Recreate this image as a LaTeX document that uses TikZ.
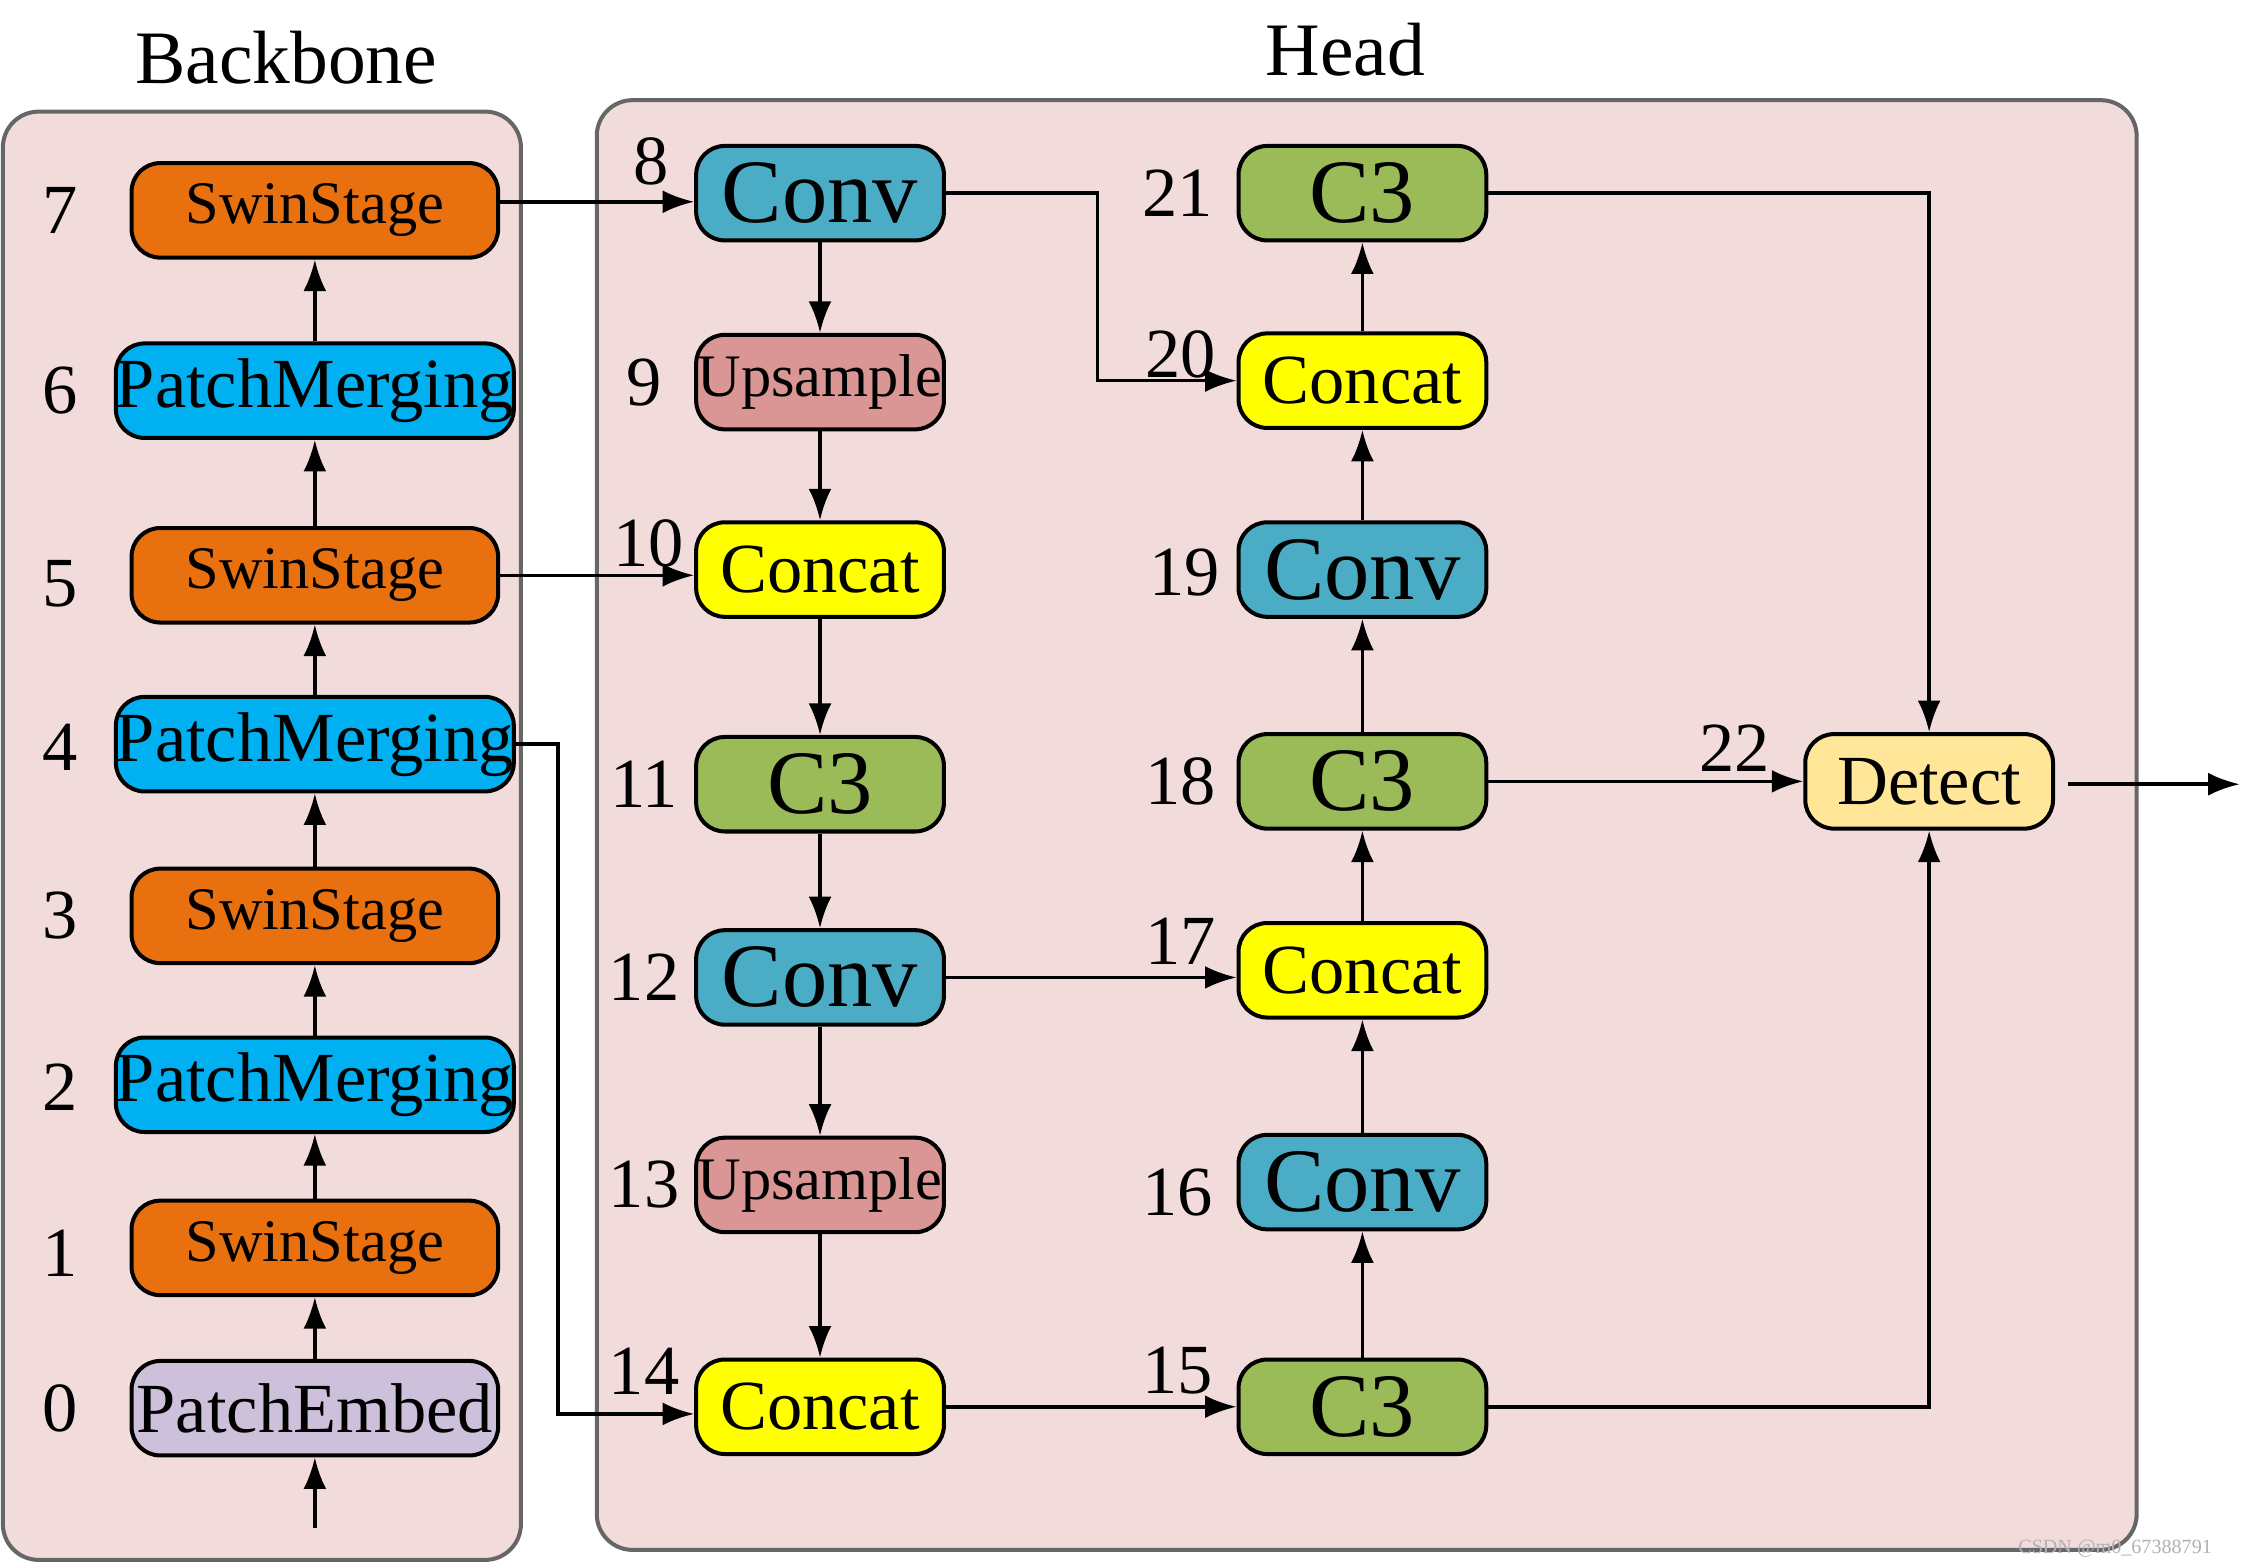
\documentclass[tikz,border=0pt]{standalone}
\usepackage{fontspec}
\setmainfont{Liberation Serif}
\usetikzlibrary{arrows.meta,calc}
\definecolor{bgpink}{HTML}{F2DCDB}
\definecolor{swin}{HTML}{E8700E}
\definecolor{pm}{HTML}{00B0F0}
\definecolor{pe}{HTML}{CCC0DA}
\definecolor{conv}{HTML}{4BACC6}
\definecolor{ups}{HTML}{D99694}
\definecolor{cat}{HTML}{FFFF00}
\definecolor{cthree}{HTML}{9BBB59}
\definecolor{det}{HTML}{FFE699}
\tikzset{
 blk/.style={draw=black,line width=0.8pt,rounded corners=0.2cm,minimum height=0.66cm,inner sep=0pt},
 bb/.style={blk,minimum width=2.56cm},
 hd/.style={blk,minimum width=1.73cm},
 swinS/.style={bb,fill=swin,font=\fontsize{12}{12}\selectfont},
 pmS/.style={bb,fill=pm,font=\fontsize{14}{14}\selectfont},
 peS/.style={bb,fill=pe,font=\fontsize{14}{14}\selectfont},
 convS/.style={hd,fill=conv,font=\fontsize{18}{18}\selectfont},
 upsS/.style={hd,fill=ups,font=\fontsize{12}{12}\selectfont},
 catS/.style={hd,fill=cat,font=\fontsize{14}{14}\selectfont},
 c3S/.style={hd,fill=cthree,font=\fontsize{18}{18}\selectfont},
 detS/.style={hd,fill=det,font=\fontsize{14}{14}\selectfont},
 lab/.style={font=\fontsize{14}{14}\selectfont},
 arr/.style={-{Latex[length=2.2mm,width=1.6mm]},line width=0.7pt},
 panel/.style={draw=gray!80!black,fill=bgpink,line width=0.8pt,rounded corners=0.25cm}
}
\begin{document}
\begin{tikzpicture}[x=0.01cm,y=-0.01cm]
\useasboundingbox (0,0) rectangle (1568,1095);
\fill[white] (0,0) rectangle (1568,1095);
\draw[panel] (2,78) rectangle (364,1090);
\draw[panel] (417,70) rectangle (1493,1083);
\node[font=\fontsize{15}{15}\selectfont] (tb) at (200,40) {Backbone};
\node[font=\fontsize{15}{15}\selectfont] (th) at (940,35) {Head};
% backbone
\node[swinS] (b7) at (220,147) {SwinStage};
\node[pmS] (b6) at (220,273) {PatchMerging};
\node[swinS] (b5) at (220,402) {SwinStage};
\node[pmS] (b4) at (220,520) {PatchMerging};
\node[swinS] (b3) at (220,640) {SwinStage};
\node[pmS] (b2) at (220,758) {PatchMerging};
\node[swinS] (b1) at (220,872) {SwinStage};
\node[peS] (b0) at (220,984) {PatchEmbed};
\foreach \n/\y in {7/147,6/273,5/408,4/522,3/640,2/760,1/876,0/984}
 \node[lab] (l\n) at (42,\y) {\n};
\coordinate (in) at (220,1068);
\draw[arr] (in) -- (b0);
\draw[arr] (b0) -- (b1); \draw[arr] (b1) -- (b2); \draw[arr] (b2) -- (b3);
\draw[arr] (b3) -- (b4); \draw[arr] (b4) -- (b5); \draw[arr] (b5) -- (b6); \draw[arr] (b6) -- (b7);
% head col1
\node[convS] (h8) at (573,135) {Conv};
\node[upsS] (h9) at (573,267) {Upsample};
\node[catS] (h10) at (573,398) {Concat};
\node[c3S] (h11) at (573,548) {C3};
\node[convS] (h12) at (573,683) {Conv};
\node[upsS] (h13) at (573,828) {Upsample};
\node[catS] (h14) at (573,983) {Concat};
% col2
\node[c3S] (h21) at (952,135) {C3};
\node[catS] (h20) at (952,266) {Concat};
\node[convS] (h19) at (952,398) {Conv};
\node[c3S] (h18) at (952,546) {C3};
\node[catS] (h17) at (952,678) {Concat};
\node[convS] (h16) at (952,826) {Conv};
\node[c3S] (h15) at (952,983) {C3};
\node[detS] (h22) at (1348,546) {Detect};
\foreach \n/\x/\y in {8/455/113,9/450/267,10/453/380,11/450/548,12/450/683,13/450/828,14/450/958,21/823/135,20/825/248,19/828/400,18/825/546,17/825/658,16/823/833,15/823/958,22/1212/523}
 \node[lab] (n\n) at (\x,\y) {\n};
% col1 down
\draw[arr] (h8) -- (h9); \draw[arr] (h9) -- (h10); \draw[arr] (h10) -- (h11);
\draw[arr] (h11) -- (h12); \draw[arr] (h12) -- (h13); \draw[arr] (h13) -- (h14);
% col2 up
\draw[arr] (h15) -- (h16); \draw[arr] (h16) -- (h17); \draw[arr] (h17) -- (h18);
\draw[arr] (h18) -- (h19); \draw[arr] (h19) -- (h20); \draw[arr] (h20) -- (h21);
% cross
\coordinate (a7) at (b7.east |- 0,141);
\draw[arr] (a7) -- (a7 -| h8.west);
\draw[arr] (b5.east) -- (b5.east -| h10.west);
\draw[arr] (b4.east) -- (390,520) -- (390,988) -- (h14.west |- 0,988);
\draw[arr] (h8.east) -- (767,135) -- (767,266) -- (h20.west);
\draw[arr] (h12.east) -- (h17.west |- h12.east);
\draw[arr] (h14.east) -- (h15.west);
\draw[arr] (h21.east) -| (h22.north);
\draw[arr] (h18.east) -- (h22.west);
\draw[arr] (h15.east) -| (h22.south);
\coordinate (o1) at (1445,548);
\coordinate (o2) at (1565,548);
\draw[arr] (o1) -- (o2);
\node[font=\fontsize{4}{4}\selectfont,text=gray!60,anchor=east] (wm) at (1558,1082) {CSDN @m0\_67388791};
\end{tikzpicture}
\end{document}
